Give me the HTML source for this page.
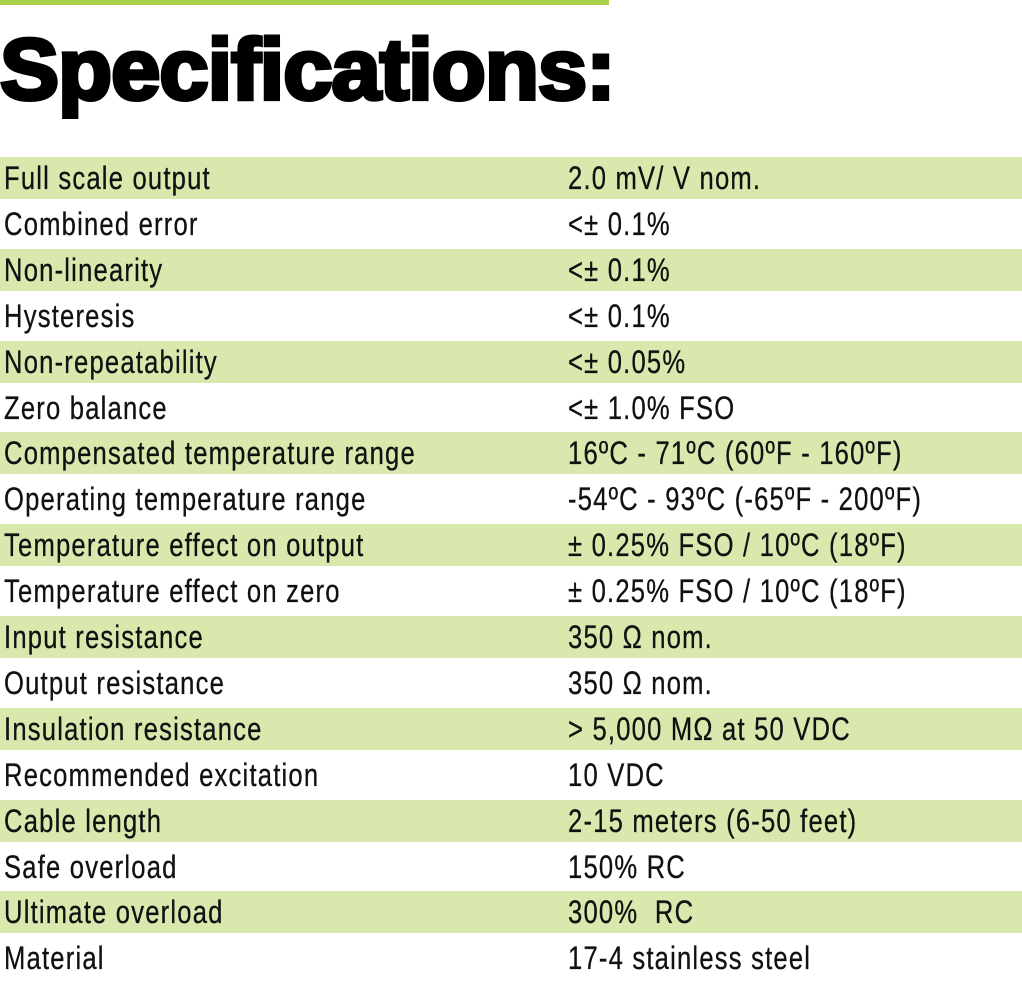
<!DOCTYPE html>
<html><head><meta charset="utf-8"><style>
body{margin:0;width:1022px;height:983px;background:#fff;position:relative;overflow:hidden;font-family:"Liberation Sans",sans-serif}
.line{position:absolute;left:0;top:0;width:609px;height:5px;background:#a9d14b}
.title{position:absolute;left:0;top:20px;font-weight:bold;font-size:86px;line-height:100px;color:#000;-webkit-text-stroke:4px #000;transform:scaleX(1.03);transform-origin:left;letter-spacing:-1px;white-space:nowrap}
.row{position:absolute;left:0;width:1022px;height:42px}
.s{background:#d9e9ae}
.t{position:absolute;top:0;font-size:32px;line-height:46px;white-space:pre;transform:scaleX(0.8);transform-origin:left;color:#111;letter-spacing:1.5px;-webkit-text-stroke:0.3px #111}
</style></head><body>
<div class="line"></div>
<div class="title">Specifications:</div>
<div id="rows"></div>
<script>
var d=[["Full scale output","2.0 mV/ V nom."],["Combined error","<± 0.1%"],["Non-linearity","<± 0.1%"],["Hysteresis","<± 0.1%"],["Non-repeatability","<± 0.05%"],["Zero balance","<± 1.0% FSO"],["Compensated temperature range","16ºC - 71ºC (60ºF - 160ºF)"],["Operating temperature range","-54ºC - 93ºC (-65ºF - 200ºF)"],["Temperature effect on output","± 0.25% FSO / 10ºC (18ºF)"],["Temperature effect on zero","± 0.25% FSO / 10ºC (18ºF)"],["Input resistance","350 Ω nom."],["Output resistance","350 Ω nom."],["Insulation resistance","> 5,000 MΩ at 50 VDC"],["Recommended excitation","10 VDC"],["Cable length","2-15 meters (6-50 feet)"],["Safe overload","150% RC"],["Ultimate overload","300%  RC"],["Material","17-4 stainless steel"]];
var h="";
d.forEach(function(r,i){var y=157+i*45.9;
h+='<div class="row'+(i%2==0?' s':'')+'" style="top:'+y.toFixed(1)+'px"><span class="t" style="left:4px;top:-2px"></span><span class="t" style="left:568px;top:-2px"></span></div>';});
document.getElementById('rows').innerHTML=h;
var rs=document.querySelectorAll('.row');
rs.forEach(function(e,i){var s=e.querySelectorAll('.t');s[0].textContent=d[i][0];s[1].textContent=d[i][1];});
</script>
</body></html>
